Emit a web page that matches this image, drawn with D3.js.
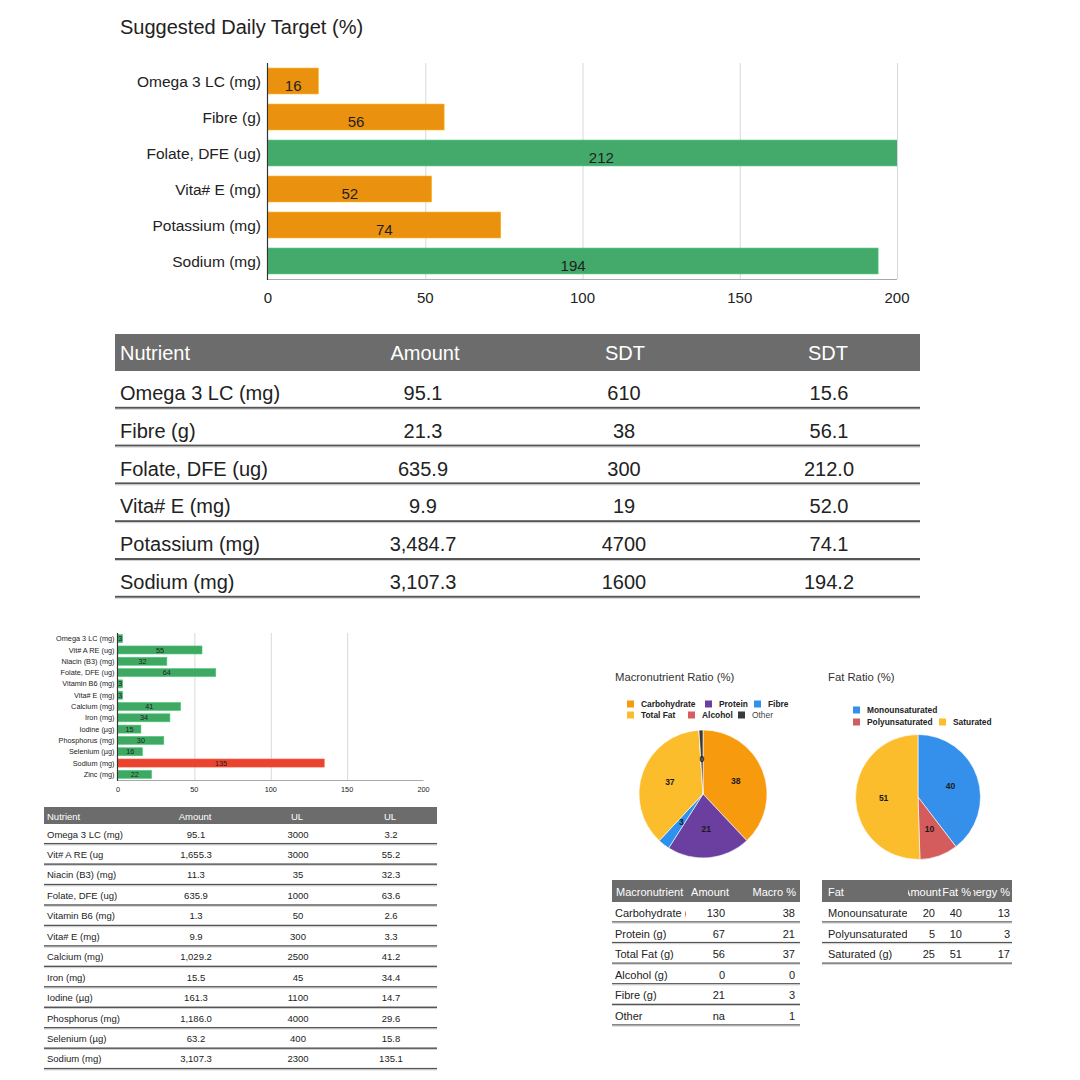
<!DOCTYPE html>
<html><head><meta charset="utf-8">
<script src="https://cdn.jsdelivr.net/npm/d3@7"></script>
<style>
body{margin:0;background:#fff}
svg{display:block}
text{font-family:"Liberation Sans",Arial,Helvetica,sans-serif}
</style>
</head><body>
<svg id="c" width="1080" height="1080"></svg>
<script>
// ---------- DATA ----------
const sdtCategories = ["Omega 3 LC (mg)","Fibre (g)","Folate, DFE (ug)","Vita# E (mg)","Potassium (mg)","Sodium (mg)"];
const sdtValues = [16,56,212,52,74,194];
const sdtTicks = [0,50,100,150,200];

const sdtTableHeaders = ["Nutrient","Amount","SDT","SDT\n%"];
const sdtAmounts = ["95.1","21.3","635.9","9.9","3,484.7","3,107.3"];
const sdtTargets = ["610","38","300","19","4700","1600"];
const sdtPercents = ["15.6","56.1","212.0","52.0","74.1","194.2"];

const ulCategories = ["Omega 3 LC (mg)","Vit# A RE (ug)","Niacin (B3) (mg)","Folate, DFE (ug)","Vitamin B6 (mg)","Vita# E (mg)","Calcium (mg)","Iron (mg)","Iodine (µg)","Phosphorus (mg)","Selenium (µg)","Sodium (mg)","Zinc (mg)"];
const ulValues = [3,55,32,64,3,3,41,34,15,30,16,135,22];
const ulTicks = [0,50,100,150,200];

const ulTableHeaders = ["Nutrient","Amount","UL","UL\n%"];
const ulTableNames = ["Omega 3 LC (mg)","Vit# A RE (ug","Niacin (B3) (mg)","Folate, DFE (ug)","Vitamin B6 (mg)","Vita# E (mg)","Calcium (mg)","Iron (mg)","Iodine (µg)","Phosphorus (mg)","Selenium (µg)","Sodium (mg)"];
const ulAmounts = ["95.1","1,655.3","11.3","635.9","1.3","9.9","1,029.2","15.5","161.3","1,186.0","63.2","3,107.3"];
const ulLimits = ["3000","3000","35","1000","50","300","2500","45","1100","4000","400","2300"];
const ulPercents = ["3.2","55.2","32.3","63.6","2.6","3.3","41.2","34.4","14.7","29.6","15.8","135.1"];

const macroNames = ["Carbohydrate","Protein","Fibre","Total Fat","Alcohol","Other"];
const macroValues = [38,21,3,37,0,1];
const macroLabels = ["38","21","3","37","","0"];
const macroTableHeaders = ["Macronutrient","Amount","Macro %"];
const macroTableNames = ["Carbohydrate (g)","Protein  (g)","Total Fat  (g)","Alcohol  (g)","Fibre (g)","Other"];
const macroAmounts = ["130","67","56","0","21","na"];
const macroPercents = ["38","21","37","0","3","1"];

const fatNames = ["Monounsaturated","Polyunsaturated","Saturated"];
const fatValues = [40,10,51];
const fatLabels = ["40","10","51"];
const fatTableHeaders = ["Fat","Amount","Fat %","Energy %"];
const fatTableNames = ["Monounsaturated","Polyunsaturated","Saturated  (g)"];
const fatAmounts = ["20","5","25"];
const fatPercents = ["40","10","51"];
const fatEnergy = ["13","3","17"];

// ---------- SETUP ----------
const svg = d3.select("#c");
const defs = svg.append("defs");
let cid = 0;
function clipRect(x,y,w,h){
  const id = "clip"+(cid++);
  defs.append("clipPath").attr("id",id).append("rect")
    .attr("x",x).attr("y",y).attr("width",w).attr("height",h);
  return `url(#${id})`;
}

// ---------- BAR CHART ----------
function barChart(o){
  const g = svg.append("g");
  const x = d3.scaleLinear().domain([o.ticks[0], o.ticks[o.ticks.length-1]]).range([o.x0,o.x1]);
  const y = d3.scaleBand().domain(o.cats).range([o.y0,o.y1]).paddingInner(o.pad).paddingOuter(o.pad/2);
  g.selectAll(".grid").data(o.ticks.filter(t=>t>0 && (o.gridLast || t<o.ticks[o.ticks.length-1])))
    .enter().append("line")
    .attr("x1",d=>x(d)+0.5).attr("x2",d=>x(d)+0.5)
    .attr("y1",o.y0).attr("y2",o.y1)
    .attr("stroke","#d8d8d8").attr("stroke-width",1);
  const clip = clipRect(o.x0, o.y0-2, o.x1-o.x0, o.y1-o.y0+4);
  const bars = g.append("g").attr("clip-path",clip);
  bars.selectAll("rect").data(o.vals).enter().append("rect")
    .attr("x",x(0)).attr("y",(d,i)=>y(o.cats[i]))
    .attr("width",d=>x(d)-x(0)).attr("height",y.bandwidth())
    .attr("fill",d=>o.color(d))
    .attr("stroke",d=>d3.color(o.color(d)).brighter(0.5))
    .attr("stroke-width",0.6);
  g.selectAll(".val").data(o.vals).enter().append("text")
    .attr("x",d=>(x(0)+x(d))/2)
    .attr("y",(d,i)=>y(o.cats[i])+y.bandwidth()/2+o.valDy)
    .attr("text-anchor","middle").attr("font-size",o.valSize).attr("fill","#1f1f1f")
    .text(d=>d);
  g.selectAll(".cat").data(o.cats).enter().append("text")
    .attr("x",o.x0-o.catGap).attr("y",d=>y(d)+y.bandwidth()/2+o.catDy)
    .attr("text-anchor","end").attr("font-size",o.catSize).attr("fill","#222")
    .text(d=>d);
  g.append("line").attr("x1",o.x0).attr("x2",o.x1).attr("y1",o.y1+0.5).attr("y2",o.y1+0.5)
    .attr("stroke","#aaa").attr("stroke-width",1);
  g.append("line").attr("x1",o.x0-0.5).attr("x2",o.x0-0.5).attr("y1",o.y0).attr("y2",o.y1+1)
    .attr("stroke","#333").attr("stroke-width",1.2);
  g.selectAll(".tick").data(o.ticks).enter().append("text")
    .attr("x",d=>x(d)).attr("y",o.tickY)
    .attr("text-anchor","middle").attr("font-size",o.tickSize).attr("fill","#222")
    .text(d=>d);
}

svg.append("text").attr("x",120).attr("y",34).attr("font-size",20).attr("fill","#222")
  .text("Suggested Daily Target (%)");

barChart({cats:sdtCategories, vals:sdtValues, ticks:sdtTicks,
  x0:268, x1:897, y0:63, y1:279, pad:0.28, gridLast:true,
  color:v=> v>100 ? "#43aa6b" : "#ea9210",
  valSize:15, valDy:9.5, catSize:15.5, catDy:5.5, catGap:7,
  tickSize:15, tickY:303});

barChart({cats:ulCategories, vals:ulValues, ticks:ulTicks,
  x0:118, x1:423.5, y0:633, y1:780, pad:0.29, gridLast:false,
  color:v=> v>100 ? "#ea432f" : "#3fa964",
  valSize:7.3, valDy:2.6, catSize:7.3, catDy:2.6, catGap:3.5,
  tickSize:7.3, tickY:792});

// ---------- TABLES ----------
function table(o){
  const g = svg.append("g");
  g.append("rect").attr("x",o.x0).attr("y",o.hy).attr("width",o.x1-o.x0).attr("height",o.hh).attr("fill","#6c6c6c");
  o.cols.forEach((c,ci)=>{
    const cc = clipRect(c.c0, o.hy, c.c1-c.c0, o.hh);
    const gg = g.append("g").attr("clip-path",cc);
    const t = gg.append("text").attr("x",c.hx).attr("y",o.hy+o.hdy)
      .attr("text-anchor",c.ha).attr("font-size",o.hs).attr("fill","#fff");
    o.headers[ci].split("\n").forEach((s,k)=>{
      t.append("tspan").attr("x",c.hx).attr("dy",k?o.hs*1.25:0).text(s);
    });
  });
  const n = o.rows[0].length;
  for(let r=0;r<n;r++){
    const top = o.hy+o.hh + r*o.rh;
    o.cols.forEach((c,ci)=>{
      const cc = clipRect(c.c0, top, c.c1-c.c0, o.rh);
      g.append("g").attr("clip-path",cc).append("text")
        .attr("x",c.dx).attr("y",top+o.tdy)
        .attr("text-anchor",c.da).attr("font-size",o.fs).attr("fill","#222")
        .text(o.rows[ci][r]);
    });
    g.append("rect").attr("x",o.x0).attr("y",top+o.rh-o.lw).attr("width",o.x1-o.x0).attr("height",o.lw).attr("fill","#555");
    g.append("rect").attr("x",o.x0).attr("y",top+o.rh).attr("width",o.x1-o.x0).attr("height",1).attr("fill","#cfcfcf");
  }
}

table({x0:115,x1:920,hy:334,hh:37,rh:37.8,hs:20,fs:20,hdy:26,tdy:29,lw:2,
  headers:sdtTableHeaders,
  rows:[sdtCategories,sdtAmounts,sdtTargets,sdtPercents],
  cols:[{c0:115,c1:360,hx:120,ha:"start",dx:120,da:"start"},
        {c0:360,c1:520,hx:425,ha:"middle",dx:423,da:"middle"},
        {c0:520,c1:720,hx:625,ha:"middle",dx:624,da:"middle"},
        {c0:720,c1:920,hx:828,ha:"middle",dx:829,da:"middle"}]});

table({x0:44,x1:437,hy:807,hh:17,rh:20.45,hs:9.5,fs:9.5,hdy:12.5,tdy:13.5,lw:1.5,
  headers:ulTableHeaders,
  rows:[ulTableNames,ulAmounts,ulLimits,ulPercents],
  cols:[{c0:44,c1:150,hx:47,ha:"start",dx:47,da:"start"},
        {c0:150,c1:245,hx:195,ha:"middle",dx:196,da:"middle"},
        {c0:245,c1:345,hx:297,ha:"middle",dx:298,da:"middle"},
        {c0:345,c1:437,hx:390,ha:"middle",dx:391,da:"middle"}]});

table({x0:612,x1:800,hy:880,hh:22,rh:20.6,hs:11,fs:11,hdy:15.5,tdy:15,lw:1.3,
  headers:macroTableHeaders,
  rows:[macroTableNames,macroAmounts,macroPercents],
  cols:[{c0:612,c1:686,hx:616,ha:"start",dx:615,da:"start"},
        {c0:686,c1:732,hx:729,ha:"end",dx:725,da:"end"},
        {c0:732,c1:800,hx:796,ha:"end",dx:795,da:"end"}]});

table({x0:822,x1:1012,hy:880,hh:22,rh:20.6,hs:11,fs:11,hdy:15.5,tdy:15,lw:1.3,
  headers:fatTableHeaders,
  rows:[fatTableNames,fatAmounts,fatPercents,fatEnergy],
  cols:[{c0:822,c1:907,hx:828,ha:"start",dx:828,da:"start"},
        {c0:908,c1:942,hx:941,ha:"end",dx:935,da:"end"},
        {c0:942,c1:973,hx:971,ha:"end",dx:962,da:"end"},
        {c0:973,c1:1012,hx:1010,ha:"end",dx:1010,da:"end"}]});

// ---------- PIES ----------
function pieChart(o){
  const g = svg.append("g");
  g.append("text").attr("x",o.tx).attr("y",o.ty).attr("font-size",11.3).attr("fill","#333").text(o.title);
  const color = d3.scaleOrdinal().domain(o.names).range(o.colors);
  o.legend.forEach((p,i)=>{
    g.append("rect").attr("x",p[0]).attr("y",p[1]-3.5).attr("width",7).attr("height",7).attr("fill",color(o.names[i]));
    g.append("text").attr("x",p[0]+14).attr("y",p[1]+3).attr("font-size",8.4)
      .attr("font-weight",o.boldLegend[i]?"bold":"normal")
      .attr("fill",o.boldLegend[i]?"#222":"#444").text(o.names[i]);
  });
  const arcs = d3.pie().sort(null).value(d=>d)(o.values);
  const arc = d3.arc().innerRadius(0).outerRadius(o.r);
  const pg = g.append("g").attr("transform",`translate(${o.cx},${o.cy})`);
  pg.selectAll("path").data(arcs).enter().append("path")
    .attr("d",arc).attr("fill",(d,i)=>color(o.names[i]))
    .attr("stroke","#fff").attr("stroke-width",0.6);
  const la = d3.arc().innerRadius(o.r*0.55).outerRadius(o.r*0.55);
  pg.selectAll(".lab").data(arcs).enter().append("text")
    .attr("transform",d=>`translate(${la.centroid(d)})`)
    .attr("dy","0.35em").attr("text-anchor","middle")
    .attr("font-size",8.5).attr("font-weight","bold").attr("fill","#1a1a1a")
    .text((d,i)=>o.labels[i]);
}

pieChart({title:"Macronutrient Ratio (%)", tx:615, ty:681,
  names:macroNames, values:macroValues, labels:macroLabels,
  colors:["#f79a0e","#6b3fa0","#2d91ef","#fbbd2c","#d55f5f","#3a3a3a"],
  legend:[[627,704],[705,704],[754,704],[627,715],[688,715],[738,715]],
  boldLegend:[true,true,true,true,true,false],
  cx:703, cy:794, r:64});

pieChart({title:"Fat Ratio (%)", tx:828, ty:681,
  names:fatNames, values:fatValues, labels:fatLabels,
  colors:["#3490ea","#d45c5c","#fbbd2c"],
  legend:[[853,710],[853,722],[939,722]],
  boldLegend:[true,true,true],
  cx:918, cy:797, r:62.5});
</script>
</body></html>
